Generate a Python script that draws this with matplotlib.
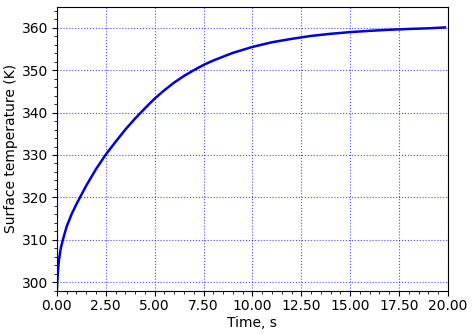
import matplotlib
matplotlib.use('Agg')
import matplotlib.pyplot as plt
from matplotlib.ticker import AutoMinorLocator, FormatStrFormatter

# Surface temperature vs time
time_s = [0, 0.02, 0.05, 0.1, 0.2, 0.32, 0.5, 0.75, 1.0, 1.5, 2.0, 2.5, 3.0, 3.5, 4.0,
          4.5, 5.0, 5.5, 6.0, 6.5, 7.0, 7.5, 8.0, 9.0, 10.0, 11.0, 12.0, 13.0, 14.0,
          15.0, 16.0, 17.0, 18.0, 19.0, 19.85]
temp_K = [298.0, 300.0, 302.3, 305.0, 308.0, 310.2, 313.1, 316.0, 318.4, 322.75, 326.65,
          330.1, 333.1, 336.0, 338.6, 341.0, 343.3, 345.3, 347.1, 348.65, 350.0, 351.25,
          352.3, 354.1, 355.5, 356.6, 357.4, 358.1, 358.6, 359.0, 359.3, 359.55, 359.74,
          359.9, 360.1]

fig, ax = plt.subplots(figsize=(4.74, 3.34), dpi=100)
ax.plot(time_s, temp_K, color='#0000dd', lw=1.8)

ax.set_xlim(0, 20)
ax.set_ylim(298, 365)
ax.set_xticks([0, 2.5, 5, 7.5, 10, 12.5, 15, 17.5, 20])
ax.xaxis.set_major_formatter(FormatStrFormatter('%.2f'))
ax.xaxis.set_minor_locator(AutoMinorLocator(5))
ax.yaxis.set_minor_locator(AutoMinorLocator(5))
ax.tick_params(which='major', pad=2.5)
ax.grid(True, color='blue', linestyle=':', lw=0.8, alpha=0.7)

ax.set_xlabel('Time, s', labelpad=2)
ax.set_ylabel('Surface temperature (K)', labelpad=3)
fig.subplots_adjust(left=0.12, right=0.945, top=0.98, bottom=0.13)
fig.savefig('out.png')
